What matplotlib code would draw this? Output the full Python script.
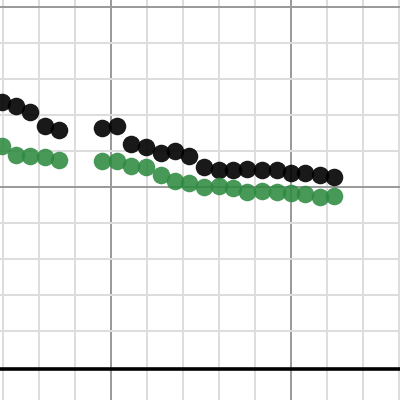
import numpy as np
import matplotlib
matplotlib.use("Agg")
import matplotlib.pyplot as plt

# x positions of the points (same for both series)
x_vals = [1.96, 2.36, 2.76, 3.17, 3.57, 4.76, 5.17, 5.57, 5.97, 6.38, 6.78,
          7.18, 7.58, 7.99, 8.39, 8.79, 9.19, 9.60, 10.00, 10.40, 10.81, 11.21]

black_vals = [7.36, 7.25, 7.09, 6.68, 6.58, 6.64, 6.68, 6.19, 6.11, 5.94, 6.00,
              5.86, 5.56, 5.47, 5.47, 5.49, 5.46, 5.46, 5.40, 5.40, 5.33, 5.29]

green_vals = [6.14, 5.89, 5.86, 5.82, 5.75, 5.72, 5.72, 5.58, 5.56, 5.33, 5.18,
              5.11, 4.99, 5.03, 4.96, 4.87, 4.90, 4.87, 4.83, 4.81, 4.73, 4.75]

fig = plt.figure(figsize=(4, 4), dpi=100)
ax = fig.add_axes([0, 0, 1, 1])

x_lo, x_hi = 1.917, 13.03
y_lo, y_hi = -0.907, 10.186
ax.set_xlim(x_lo, x_hi)
ax.set_ylim(y_lo, y_hi)

# grid: minor every unit, major every 5
for gx in np.arange(2, 14):
    major = gx % 5 == 0
    ax.axvline(gx, color="#999999" if major else "#dddddd", lw=1.4, zorder=1)
for gy in np.arange(0, 11):
    if gy == 0:
        continue
    major = gy % 5 == 0
    ax.axhline(gy, color="#999999" if major else "#dddddd", lw=1.4, zorder=1)

# x axis
ax.axhline(-0.055, color="black", lw=2.6, zorder=2)

ax.scatter(x_vals, black_vals, s=160, color="black", alpha=0.9,
           linewidths=0, zorder=3)
ax.scatter(x_vals, green_vals, s=160, color="#2e8a40", alpha=0.88,
           linewidths=0, zorder=3)

ax.set_xticks([])
ax.set_yticks([])
for sp in ax.spines.values():
    sp.set_visible(False)

fig.savefig("out.png", dpi=100)
